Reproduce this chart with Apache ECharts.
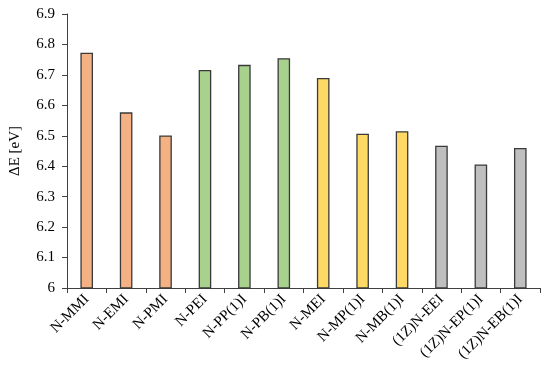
<!DOCTYPE html>
<html><head><meta charset="utf-8">
<script src="https://cdn.jsdelivr.net/npm/echarts@6/dist/echarts.min.js"></script>
<style>html,body{margin:0;padding:0;background:#fff}#c{width:550px;height:384px}</style>
</head><body><div id="c"></div>
<script>
const categories = ["N-MMI","N-EMI","N-PMI","N-PEI","N-PP(1)I","N-PB(1)I","N-MEI","N-MP(1)I","N-MB(1)I","(1Z)N-EEI","(1Z)N-EP(1)I","(1Z)N-EB(1)I"];
const values = [6.773, 6.577, 6.501, 6.716, 6.733, 6.755, 6.690, 6.507, 6.515, 6.467, 6.406, 6.460];
const groups = [0,0,0,1,1,1,2,2,2,3,3,3];
const groupColors = ["#F4B183","#A9D18E","#FFD966","#BFBFBF"];
const yTicks = {min: 6, max: 6.9, step: 0.1};

const font = "'Liberation Serif', 'DejaVu Serif', serif";
const chart = echarts.init(document.getElementById('c'));
chart.setOption({
  animation: false,
  grid: {left: 67, right: 10, top: 14, bottom: 96},
  xAxis: {
    type: 'category', data: categories,
    axisLine: {lineStyle: {color: '#404040', width: 1}},
    axisTick: {show: true, length: 5, lineStyle: {color: '#404040'}},
    axisLabel: {rotate: 45, color: '#000', fontFamily: font, fontSize: 15, margin: 9}
  },
  yAxis: {
    type: 'value', min: yTicks.min, max: yTicks.max, interval: yTicks.step,
    name: 'ΔE [eV]', nameLocation: 'middle', nameGap: 44, nameRotate: 90,
    nameTextStyle: {color: '#000', fontFamily: font, fontSize: 15},
    axisLine: {show: true, lineStyle: {color: '#404040', width: 1}},
    axisTick: {show: true, length: 5, lineStyle: {color: '#404040'}},
    splitLine: {show: false},
    axisLabel: {color: '#000', fontFamily: font, fontSize: 15, margin: 12,
      formatter: v => String(Math.round(v*10)/10)}
  },
  series: [{
    type: 'bar', barWidth: '32%',
    data: values.map((v,i) => ({value: v, itemStyle: {color: groupColors[groups[i]], borderColor: '#3a3a3a', borderWidth: 1.3}}))
  }]
});
</script></body></html>
